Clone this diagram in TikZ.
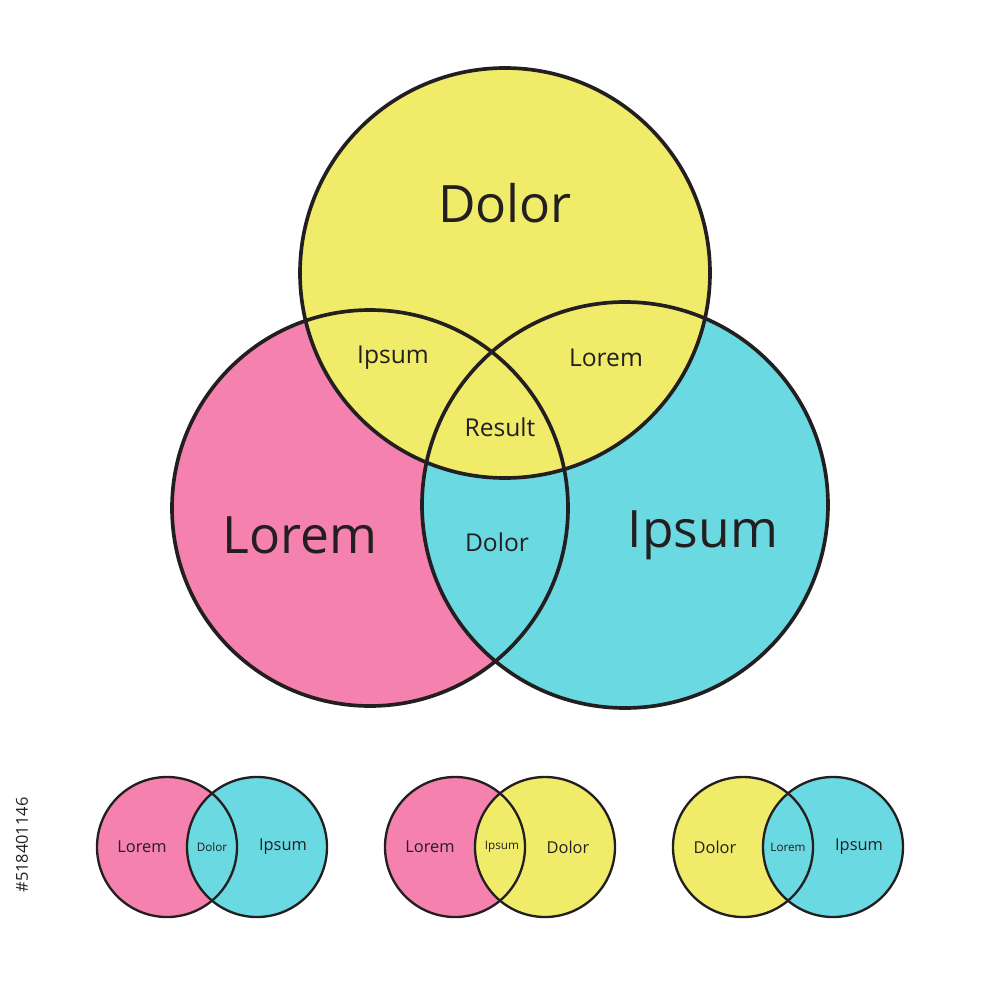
\documentclass[tikz,border=0pt]{standalone}
\usepackage{fontspec}
\setmainfont{Open Sans}
\definecolor{pk}{HTML}{F581AE}
\definecolor{cy}{HTML}{6BD9E1}
\definecolor{yl}{HTML}{F1EB6A}
\definecolor{tx}{HTML}{231F20}
\begin{document}
\begin{tikzpicture}[x=0.3mm,y=-0.3mm,
  ln/.style={draw=tx,line width=1.1mm},
  lns/.style={draw=tx,line width=0.7mm},
  big/.style={text=tx,font=\fontsize{44}{44}\selectfont},
  mid/.style={text=tx,font=\fontsize{21}{21}\selectfont},
  sm/.style={text=tx,font=\fontsize{14}{14}\selectfont},
  ti/.style={text=tx,font=\fontsize{10}{10}\selectfont}]
\useasboundingbox (0,0) rectangle (1000,1000);
% big venn
\fill[pk] (370,508) circle (198);
\fill[cy] (625,505) circle (203);
\fill[yl] (505,273) circle (205);
\draw[ln] (370,508) circle (198);
\draw[ln] (625,505) circle (203);
\draw[ln] (505,273) circle (205);
\node[big] (d) at (505,203) {Dolor};
\node[big] (l) at (300,535) {Lorem};
\node[big] (i) at (703,535) {Ipsum};
\node[mid] (i2) at (393,358) {Ipsum};
\node[mid] (l2) at (606,358) {Lorem};
\node[mid] (r) at (500,427) {Result};
\node[mid] (d2) at (497,542) {Dolor};
% small 1
\fill[pk] (167,847) circle (70);
\fill[cy] (257,847) circle (70);
\draw[lns] (167,847) circle (70);
\draw[lns] (257,847) circle (70);
\node[sm] at (142,847) {Lorem};
\node[ti] at (212,847) {Dolor};
\node[sm] at (283,847) {Ipsum};
% small 2
\fill[pk] (455,847) circle (70);
\fill[yl] (545,847) circle (70);
\draw[lns] (455,847) circle (70);
\draw[lns] (545,847) circle (70);
\node[sm] at (430,847) {Lorem};
\node[ti] at (502,847) {Ipsum};
\node[sm] at (568,847) {Dolor};
% small 3
\fill[yl] (743,847) circle (70);
\fill[cy] (833,847) circle (70);
\draw[lns] (743,847) circle (70);
\draw[lns] (833,847) circle (70);
\node[sm] at (715,847) {Dolor};
\node[ti] at (788,847) {Lorem};
\node[sm] at (859,847) {Ipsum};
\node[text=tx,rotate=90,font=\fontsize{14}{14}\selectfont] (id) at (22,845) {\#518401146};
\end{tikzpicture}
\end{document}
